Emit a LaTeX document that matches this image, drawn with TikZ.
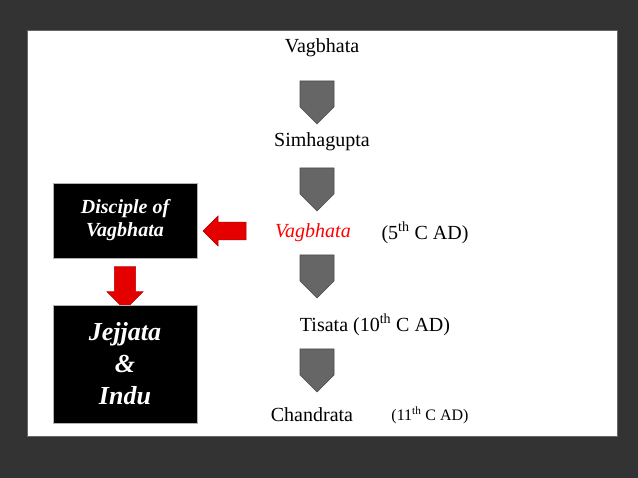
\documentclass[tikz,border=0pt]{standalone}
\usepackage{fontspec}
\setmainfont{Liberation Serif}
\usetikzlibrary{shapes.arrows}
\begin{document}
\begin{tikzpicture}[x=1pt,y=-1pt,
 txt/.style={font=\fontsize{20}{22}\selectfont,inner sep=0pt},
 garrow/.style={single arrow,draw=black!70,fill=gray!80!black,line width=0.6pt,minimum width=34pt,minimum height=43pt,single arrow head extend=0pt,single arrow tip angle=90,inner sep=5pt,shape border rotate=270},
 rarrow/.style={single arrow,draw=red!70!black,fill=red!90!black,line width=0.6pt,minimum width=30pt,minimum height=43pt,single arrow head extend=3pt,inner sep=4pt},
 bbox/.style={fill=black,draw=gray!60,text=white,align=center,inner sep=0pt,font=\bfseries\itshape}]
\fill[black!80] (0,0) rectangle (638,478);
\fill[white,draw=black!60] (27,30) rectangle (617,436);
\node[txt] (v1) at (322,48) {Vagbhata};
\node[garrow] (a1) at (317,94) {};
\node[txt] (s) at (322,142) {Simhagupta};
\node[garrow] (a2) at (317,181) {};
\node[txt,text=red,font=\fontsize{20}{22}\selectfont\itshape] (v2) at (313,233) {Vagbhata};
\node[txt] (v2d) at (425,233) {(5\textsuperscript{th} C AD)};
\node[garrow] (a3) at (317,268) {};
\node[txt] (t) at (375,325) {Tisata (10\textsuperscript{th} C AD)};
\node[garrow] (a4) at (317,362) {};
\node[txt] (c) at (312,415) {Chandrata};
\node[inner sep=0pt,font=\fontsize{16}{18}\selectfont] (cd) at (430,415) {(11\textsuperscript{th} C AD)};
\node[bbox,minimum width=144pt,minimum height=75pt,font=\fontsize{20}{23}\selectfont\bfseries\itshape] (d) at (125,220.5) {Disciple of\\Vagbhata};
\node[rarrow,shape border rotate=180] (ra) at (229,231) {};
\node[rarrow,shape border rotate=270,minimum width=36pt] (rd) at (125,283) {};
\node[bbox,minimum width=144pt,minimum height=118pt,font=\fontsize{26}{32}\selectfont\bfseries\itshape] (j) at (125,364) {Jejjata\\\&\\Indu};
\end{tikzpicture}
\end{document}
